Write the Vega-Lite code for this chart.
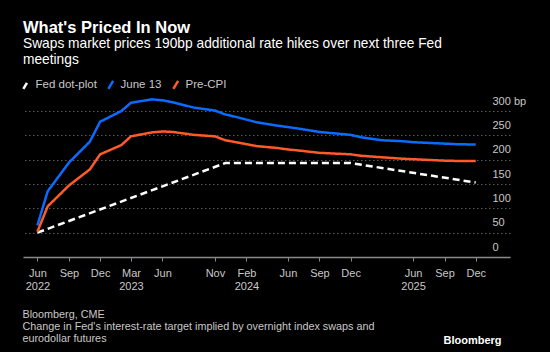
{
  "$schema": "https://vega.github.io/schema/vega-lite/v6.json",
  "width": 487,
  "height": 163,
  "autosize": {"type": "none"},
  "padding": {"left": 23, "top": 94, "right": 40, "bottom": 95},
  "background": "#000000",
  "title": {
    "text": "What's Priced In Now",
    "subtitle": ["Swaps market prices 190bp additional rate hikes over next three Fed", "meetings"],
    "anchor": "start",
    "frame": "group",
    "font": "Liberation Sans",
    "fontSize": 16.5,
    "fontWeight": "bold",
    "color": "#ffffff",
    "subtitleFont": "Liberation Sans",
    "subtitleFontSize": 13.75,
    "subtitleColor": "#ffffff",
    "subtitlePadding": 1,
    "subtitleLineHeight": 16,
    "offset": 12
  },
  "data": {
    "values": [
      {"series": "Fed dot-plot", "date": "2022-06-01", "value": 50},
      {"series": "Fed dot-plot", "date": "2023-12-01", "value": 193},
      {"series": "Fed dot-plot", "date": "2024-12-01", "value": 193},
      {"series": "Fed dot-plot", "date": "2025-12-01", "value": 153},
      {"series": "June 13", "date": "2022-06-01", "value": 65},
      {"series": "June 13", "date": "2022-07-01", "value": 135},
      {"series": "June 13", "date": "2022-09-01", "value": 194},
      {"series": "June 13", "date": "2022-11-01", "value": 237},
      {"series": "June 13", "date": "2022-12-01", "value": 278},
      {"series": "June 13", "date": "2023-02-01", "value": 300},
      {"series": "June 13", "date": "2023-03-01", "value": 317},
      {"series": "June 13", "date": "2023-05-01", "value": 324},
      {"series": "June 13", "date": "2023-06-01", "value": 322},
      {"series": "June 13", "date": "2023-07-01", "value": 318},
      {"series": "June 13", "date": "2023-09-01", "value": 307},
      {"series": "June 13", "date": "2023-11-01", "value": 301},
      {"series": "June 13", "date": "2023-12-01", "value": 293},
      {"series": "June 13", "date": "2024-01-01", "value": 288},
      {"series": "June 13", "date": "2024-03-01", "value": 277},
      {"series": "June 13", "date": "2024-05-01", "value": 270},
      {"series": "June 13", "date": "2024-06-01", "value": 267},
      {"series": "June 13", "date": "2024-07-01", "value": 264},
      {"series": "June 13", "date": "2024-09-01", "value": 257},
      {"series": "June 13", "date": "2024-11-01", "value": 253},
      {"series": "June 13", "date": "2024-12-01", "value": 251},
      {"series": "June 13", "date": "2025-01-01", "value": 246},
      {"series": "June 13", "date": "2025-03-01", "value": 240},
      {"series": "June 13", "date": "2025-05-01", "value": 238},
      {"series": "June 13", "date": "2025-06-01", "value": 236},
      {"series": "June 13", "date": "2025-07-01", "value": 235},
      {"series": "June 13", "date": "2025-09-01", "value": 233},
      {"series": "June 13", "date": "2025-10-01", "value": 232},
      {"series": "June 13", "date": "2025-12-01", "value": 231},
      {"series": "Pre-CPI", "date": "2022-06-01", "value": 52},
      {"series": "Pre-CPI", "date": "2022-07-01", "value": 104},
      {"series": "Pre-CPI", "date": "2022-09-01", "value": 147},
      {"series": "Pre-CPI", "date": "2022-11-01", "value": 180},
      {"series": "Pre-CPI", "date": "2022-12-01", "value": 211},
      {"series": "Pre-CPI", "date": "2023-02-01", "value": 230},
      {"series": "Pre-CPI", "date": "2023-03-01", "value": 248},
      {"series": "Pre-CPI", "date": "2023-05-01", "value": 256},
      {"series": "Pre-CPI", "date": "2023-06-01", "value": 258},
      {"series": "Pre-CPI", "date": "2023-07-01", "value": 257},
      {"series": "Pre-CPI", "date": "2023-09-01", "value": 251},
      {"series": "Pre-CPI", "date": "2023-11-01", "value": 248},
      {"series": "Pre-CPI", "date": "2023-12-01", "value": 240},
      {"series": "Pre-CPI", "date": "2024-01-01", "value": 236},
      {"series": "Pre-CPI", "date": "2024-03-01", "value": 228},
      {"series": "Pre-CPI", "date": "2024-05-01", "value": 224},
      {"series": "Pre-CPI", "date": "2024-06-01", "value": 221},
      {"series": "Pre-CPI", "date": "2024-07-01", "value": 219},
      {"series": "Pre-CPI", "date": "2024-09-01", "value": 214},
      {"series": "Pre-CPI", "date": "2024-11-01", "value": 212},
      {"series": "Pre-CPI", "date": "2024-12-01", "value": 211},
      {"series": "Pre-CPI", "date": "2025-01-01", "value": 208},
      {"series": "Pre-CPI", "date": "2025-03-01", "value": 205},
      {"series": "Pre-CPI", "date": "2025-05-01", "value": 202},
      {"series": "Pre-CPI", "date": "2025-06-01", "value": 201},
      {"series": "Pre-CPI", "date": "2025-07-01", "value": 200},
      {"series": "Pre-CPI", "date": "2025-09-01", "value": 198},
      {"series": "Pre-CPI", "date": "2025-10-01", "value": 197.5},
      {"series": "Pre-CPI", "date": "2025-12-01", "value": 197.5}
    ]
  },
  "mark": {"type": "line", "strokeWidth": 2.5, "strokeCap": "butt", "strokeJoin": "round"},
  "encoding": {
    "x": {
      "field": "date",
      "type": "temporal",
      "scale": {
        "type": "utc",
        "domain": [
          {"year": 2022, "month": 4, "date": 20, "utc": true},
          {"year": 2026, "month": 3, "date": 11, "utc": true}
        ]
      },
      "axis": {
        "values": [
          {"year": 2022, "month": 6, "date": 1, "utc": true},
          {"year": 2022, "month": 9, "date": 1, "utc": true},
          {"year": 2022, "month": 12, "date": 1, "utc": true},
          {"year": 2023, "month": 3, "date": 1, "utc": true},
          {"year": 2023, "month": 6, "date": 1, "utc": true},
          {"year": 2023, "month": 11, "date": 1, "utc": true},
          {"year": 2024, "month": 2, "date": 1, "utc": true},
          {"year": 2024, "month": 6, "date": 1, "utc": true},
          {"year": 2024, "month": 9, "date": 1, "utc": true},
          {"year": 2024, "month": 12, "date": 1, "utc": true},
          {"year": 2025, "month": 6, "date": 1, "utc": true},
          {"year": 2025, "month": 9, "date": 1, "utc": true},
          {"year": 2025, "month": 12, "date": 1, "utc": true}
        ],
        "labelExpr": "[utcFormat(datum.value, '%b'), ((utcmonth(datum.value) == 5 && utcyear(datum.value) == 2022) || (utcmonth(datum.value) == 2 && utcyear(datum.value) == 2023) || (utcmonth(datum.value) == 1 && utcyear(datum.value) == 2024) || (utcmonth(datum.value) == 5 && utcyear(datum.value) == 2025)) ? utcFormat(datum.value, '%Y') : '']",
        "grid": false,
        "domain": true,
        "domainColor": "#8a8a8a",
        "domainWidth": 1.5,
        "ticks": true,
        "tickColor": "#8a8a8a",
        "tickSize": 4,
        "tickWidth": 1,
        "labelColor": "#c8c8c8",
        "labelFont": "Liberation Sans",
        "labelFontSize": 11,
        "labelPadding": 6,
        "labelLineHeight": 13.5,
        "labelBaseline": "top",
        "labelOverlap": false,
        "labelFlush": false,
        "labelBound": false,
        "title": ["Bloomberg, CME", "Change in Fed's interest-rate target implied by overnight index swaps and", "eurodollar futures"],
        "titleAnchor": "start",
        "titleAlign": "left",
        "titleBaseline": "alphabetic",
        "titleX": -1,
        "titleY": 60,
        "titleFont": "Liberation Sans",
        "titleFontSize": 10.8,
        "titleFontWeight": "normal",
        "titleColor": "#c8c8c8",
        "titleLineHeight": 12.3
      }
    },
    "y": {
      "field": "value",
      "type": "quantitative",
      "scale": {"domain": [0, 335], "nice": false, "zero": true},
      "axis": {
        "orient": "right",
        "values": [0, 50, 100, 150, 200, 250, 300],
        "domain": false,
        "ticks": false,
        "grid": true,
        "gridColor": "#5a5a5a",
        "gridDash": [1.5, 2.5],
        "gridWidth": 1,
        "labelAlign": "left",
        "labelPadding": -18,
        "labelBaseline": "alphabetic",
        "labelOffset": -7,
        "labelFont": "Liberation Sans",
        "labelFontSize": 11,
        "labelColor": "#c8c8c8",
        "labelExpr": "datum.value == 300 ? '300 bp' : datum.value == 50 ? '\u200750' : datum.value == 0 ? '\u2007\u20070' : datum.label",
        "title": "Bloomberg",
        "titleAngle": 0,
        "titleAlign": "right",
        "titleBaseline": "alphabetic",
        "titleX": -9,
        "titleY": 249.5,
        "titleFont": "Liberation Sans",
        "titleFontSize": 11,
        "titleFontWeight": "bold",
        "titleColor": "#ffffff"
      }
    },
    "color": {
      "field": "series",
      "type": "nominal",
      "scale": {
        "domain": ["Fed dot-plot", "June 13", "Pre-CPI"],
        "range": ["#ffffff", "#0a6cff", "#ff5a28"]
      },
      "legend": {
        "orient": "none",
        "legendX": -3,
        "legendY": -15,
        "direction": "horizontal",
        "title": null,
        "symbolType": "M-0.6,1L0.6,-1",
        "symbolSize": 64,
        "symbolStrokeWidth": 2.5,
        "labelFont": "Liberation Sans",
        "labelFontSize": 11.5,
        "labelColor": "#c8c8c8",
        "labelOffset": 4,
        "columnPadding": 6,
        "padding": 0
      }
    },
    "strokeDash": {
      "field": "series",
      "type": "nominal",
      "scale": {
        "domain": ["Fed dot-plot", "June 13", "Pre-CPI"],
        "range": [[7, 4], [1, 0], [1, 0]]
      },
      "legend": null
    }
  },
  "config": {
    "font": "Liberation Sans",
    "view": {"stroke": null}
  }
}
